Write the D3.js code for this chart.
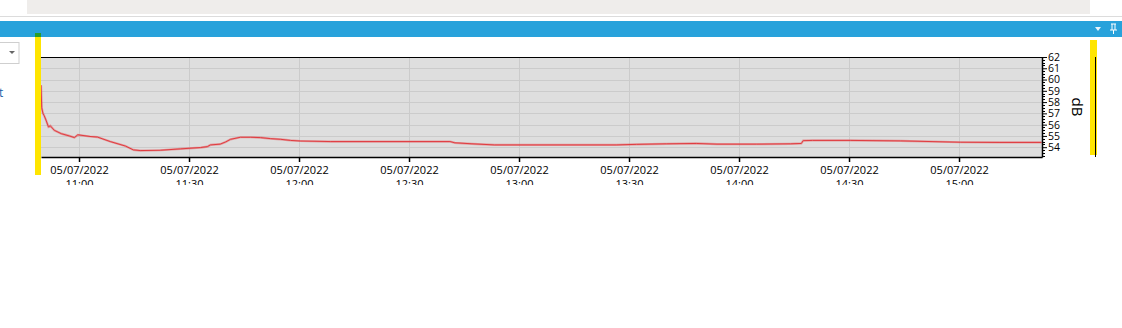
<!DOCTYPE html>
<html>
<head>
<meta charset="utf-8">
<script src="https://cdn.jsdelivr.net/npm/d3@7"></script>
<style>
  body { margin: 0; background: #fff; font-family: "Open Sans", "Noto Sans", sans-serif; }
  svg { display: block; }
</style>
</head>
<body>
<div class="chart"></div>
<script>
// sound level readings (time of day, dB)
const times = [
  "10:49:38", "10:49:50", "10:50:10", "10:50:30", "10:51:00", "10:51:40", "10:52:10",
  "10:53:15", "10:55:10", "10:57:20",
  "10:58:45", "10:59:40", "11:03:00", "11:05:00", "11:08:30", "11:12:40", "11:14:50",
  "11:16:40", "11:22:10", "11:27:40", "11:33:10", "11:35:00", "11:35:50", "11:38:30",
  "11:40:00", "11:41:20", "11:44:00", "11:46:50", "11:49:30", "11:52:10", "11:55:00",
  "11:57:40", "12:00:20", "12:08:30", "12:41:10", "12:42:30", "12:47:10", "12:53:20",
  "13:00:00", "13:26:30", "13:32:00", "13:40:10", "13:48:20", "13:54:00", "14:04:50",
  "14:14:00", "14:17:00", "14:17:30", "14:20:00", "14:30:20", "14:44:00", "15:00:20",
  "15:11:10", "15:22:30"
];
const levels = [
  59.5, 57.5, 57.0, 56.8, 56.4, 55.8, 55.9,
  55.5, 55.2, 55.0,
  54.85, 55.1, 54.95, 54.9, 54.5, 54.1, 53.76,
  53.7, 53.73, 53.85, 53.97, 54.05, 54.2, 54.27,
  54.47, 54.7, 54.88, 54.88, 54.85, 54.76, 54.7,
  54.6, 54.55, 54.5, 54.5, 54.39, 54.3, 54.2,
  54.2, 54.2, 54.25, 54.3, 54.33, 54.27, 54.27,
  54.3, 54.33, 54.58, 54.6, 54.6, 54.56, 54.44,
  54.42, 54.42
];
const dateLabel = "05/07/2022";
const yTicks = [54, 55, 56, 57, 58, 59, 60, 61, 62];
const yMin = 53.13, yMax = 62;
const startTime = "10:49:38", endTime = "15:22:38";

const toDate = (s) => {
  const [h, m, sec] = s.split(":").map(Number);
  return new Date(2022, 6, 5, h, m, sec);
};
const data = times.map((t, i) => ({ t: toDate(t), v: levels[i] }));

const W = 1122, H = 328;
const plot = { left: 41, right: 1042, top: 57, bottom: 157 };

const svg = d3.select(".chart").append("svg").attr("width", W).attr("height", H);

// window chrome around the chart
svg.append("rect").attr("x", 27).attr("y", 0).attr("width", 1063).attr("height", 14).attr("fill", "#efedeb");
svg.append("line").attr("x1", 0).attr("x2", W).attr("y1", 16.5).attr("y2", 16.5).attr("stroke", "#dcdcdc");
svg.append("rect").attr("x", 0).attr("y", 21).attr("width", W).attr("height", 16).attr("fill", "#28a2db");
svg.append("path").attr("d", "M1095,27 L1101,27 L1098,31 Z").attr("fill", "#e8f4fb");
svg.append("path").attr("d", "M1111,24 L1116,24 M1112,24 L1112,30 M1115,24 L1115,30 M1110,30 L1117,30 M1113.5,30 L1113.5,34")
  .attr("stroke", "#fff").attr("fill", "none");
svg.append("rect").attr("x", -1).attr("y", 42.5).attr("width", 20).attr("height", 21).attr("fill", "#fff").attr("stroke", "#cfcfcf");
svg.append("path").attr("d", "M9,51 L15,51 L12,54 Z").attr("fill", "#666");
svg.append("text").attr("x", -1).attr("y", 97).attr("fill", "#1a5fa8").attr("font-size", 12).text("t");

const x = d3.scaleTime().domain([toDate(startTime), toDate(endTime)]).range([plot.left, plot.right]);
const y = d3.scaleLinear().domain([yMin, yMax]).range([plot.bottom, plot.top]);

// plot background
svg.append("rect")
  .attr("x", plot.left).attr("y", plot.top)
  .attr("width", plot.right - plot.left).attr("height", plot.bottom - plot.top)
  .attr("fill", "#dedede");

const xTicks = x.ticks(d3.timeMinute.every(30));

// grid
svg.append("g").selectAll("line").data(yTicks.filter((d) => d < yMax))
  .join("line")
  .attr("x1", plot.left).attr("x2", plot.right)
  .attr("y1", (d) => Math.round(y(d)) + 0.5).attr("y2", (d) => Math.round(y(d)) + 0.5)
  .attr("stroke", "#cbcbcb");
svg.append("g").selectAll("line").data(xTicks)
  .join("line")
  .attr("x1", (d) => Math.round(x(d)) + 0.5).attr("x2", (d) => Math.round(x(d)) + 0.5)
  .attr("y1", plot.top).attr("y2", plot.bottom)
  .attr("stroke", "#cbcbcb");

// data line
const line = d3.line().x((d) => x(d.t)).y((d) => y(d.v)).curve(d3.curveLinear);
svg.append("path").datum(data)
  .attr("d", line)
  .attr("fill", "none")
  .attr("stroke", "#e85a5e")
  .attr("stroke-width", 2.2)
  .attr("stroke-opacity", 0.5);
svg.append("path").datum(data)
  .attr("d", line)
  .attr("fill", "none")
  .attr("stroke", "#e03c40")
  .attr("stroke-width", 1);

// top border
svg.append("line").attr("x1", plot.left).attr("x2", plot.right)
  .attr("y1", plot.top + 0.5).attr("y2", plot.top + 0.5).attr("stroke", "#000");

// x axis (labels cut off by the host panel at y = 185)
svg.append("clipPath").attr("id", "clipx").append("rect")
  .attr("x", -100).attr("y", -60).attr("width", W + 200).attr("height", 60 + 185 - plot.bottom);
const gx = svg.append("g")
  .attr("clip-path", "url(#clipx)")
  .attr("transform", `translate(0, ${plot.bottom})`)
  .call(d3.axisBottom(x).tickValues(xTicks).tickSize(5).tickSizeOuter(0).tickFormat(""));
gx.select(".domain").attr("stroke", "#000").attr("stroke-width", 1.5);
gx.selectAll(".tick line").attr("stroke", "#000").attr("stroke-width", 1.5);
gx.selectAll(".tick").append("text")
  .attr("fill", "#000")
  .attr("font-size", 11)
  .attr("font-family", "'Open Sans', sans-serif")
  .attr("text-anchor", "middle")
  .each(function (d) {
    const t = d3.select(this);
    t.append("tspan").attr("x", 0).attr("y", 17).text(dateLabel);
    t.append("tspan").attr("x", 0).attr("y", 31).text(d3.timeFormat("%H:%M")(d));
  });

// y axis on the right
const gy = svg.append("g")
  .attr("transform", `translate(${plot.right}, 0)`)
  .call(d3.axisRight(y).tickValues(yTicks).tickSize(5).tickPadding(1).tickSizeOuter(0).tickFormat(d3.format("d")));
gy.select(".domain").attr("stroke", "#000").attr("stroke-width", 1.5);
gy.selectAll(".tick line").attr("stroke", "#000");
gy.selectAll(".tick text")
  .attr("fill", "#000")
  .attr("font-size", 10.5)
  .attr("font-family", "'Open Sans', sans-serif");
const minor = d3.range(Math.ceil(yMin * 4) / 4, yMax, 0.25).filter((d) => !yTicks.includes(d));
svg.append("g").selectAll("line").data(minor)
  .join("line")
  .attr("x1", plot.right).attr("x2", plot.right + 3)
  .attr("y1", (d) => Math.round(y(d)) + 0.5).attr("y2", (d) => Math.round(y(d)) + 0.5)
  .attr("stroke", "#000");

svg.append("text")
  .attr("transform", `translate(1072, ${(plot.top + plot.bottom) / 2}) rotate(90)`)
  .attr("text-anchor", "middle")
  .attr("font-size", 15)
  .attr("font-family", "'Open Sans', sans-serif")
  .text("dB");

// side markers
svg.append("rect").attr("x", 35).attr("y", 33).attr("width", 6).attr("height", 142).attr("fill", "#ffe500");
svg.append("rect").attr("x", 35).attr("y", 33).attr("width", 6).attr("height", 4).attr("fill", "#2a9d2a");
svg.append("rect").attr("x", 1090).attr("y", 40).attr("width", 7).attr("height", 115).attr("fill", "#ffe500");
svg.append("line").attr("x1", 1095.5).attr("x2", 1095.5).attr("y1", 57).attr("y2", 157).attr("stroke", "#000");
</script>
</body>
</html>
